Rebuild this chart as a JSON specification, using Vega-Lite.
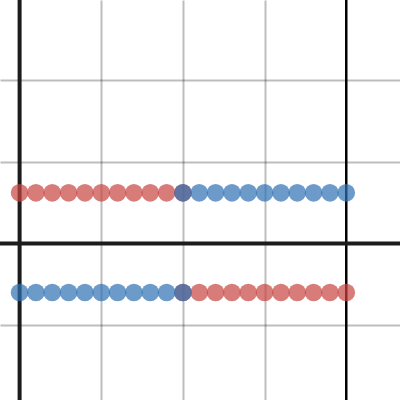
{
  "$schema": "https://vega.github.io/schema/vega-lite/v6.json",
  "width": 400,
  "height": 400,
  "autosize": "none",
  "padding": 0,
  "background": "white",
  "config": {"view": {"stroke": null}},
  "datasets": {
    "points": [
      {"x": 0, "y": 0.62, "series": "red"},
      {"x": 0.2, "y": 0.62, "series": "red"},
      {"x": 0.4, "y": 0.62, "series": "red"},
      {"x": 0.6, "y": 0.62, "series": "red"},
      {"x": 0.8, "y": 0.62, "series": "red"},
      {"x": 1, "y": 0.62, "series": "red"},
      {"x": 1.2, "y": 0.62, "series": "red"},
      {"x": 1.4, "y": 0.62, "series": "red"},
      {"x": 1.6, "y": 0.62, "series": "red"},
      {"x": 1.8, "y": 0.62, "series": "red"},
      {"x": 2, "y": 0.62, "series": "red"},
      {"x": 2, "y": -0.6, "series": "red"},
      {"x": 2.2, "y": -0.6, "series": "red"},
      {"x": 2.4, "y": -0.6, "series": "red"},
      {"x": 2.6, "y": -0.6, "series": "red"},
      {"x": 2.8, "y": -0.6, "series": "red"},
      {"x": 3, "y": -0.6, "series": "red"},
      {"x": 3.2, "y": -0.6, "series": "red"},
      {"x": 3.4, "y": -0.6, "series": "red"},
      {"x": 3.6, "y": -0.6, "series": "red"},
      {"x": 3.8, "y": -0.6, "series": "red"},
      {"x": 4, "y": -0.6, "series": "red"},
      {"x": 2, "y": 0.62, "series": "blue"},
      {"x": 2.2, "y": 0.62, "series": "blue"},
      {"x": 2.4, "y": 0.62, "series": "blue"},
      {"x": 2.6, "y": 0.62, "series": "blue"},
      {"x": 2.8, "y": 0.62, "series": "blue"},
      {"x": 3, "y": 0.62, "series": "blue"},
      {"x": 3.2, "y": 0.62, "series": "blue"},
      {"x": 3.4, "y": 0.62, "series": "blue"},
      {"x": 3.6, "y": 0.62, "series": "blue"},
      {"x": 3.8, "y": 0.62, "series": "blue"},
      {"x": 4, "y": 0.62, "series": "blue"},
      {"x": 0, "y": -0.6, "series": "blue"},
      {"x": 0.2, "y": -0.6, "series": "blue"},
      {"x": 0.4, "y": -0.6, "series": "blue"},
      {"x": 0.6, "y": -0.6, "series": "blue"},
      {"x": 0.8, "y": -0.6, "series": "blue"},
      {"x": 1, "y": -0.6, "series": "blue"},
      {"x": 1.2, "y": -0.6, "series": "blue"},
      {"x": 1.4, "y": -0.6, "series": "blue"},
      {"x": 1.6, "y": -0.6, "series": "blue"},
      {"x": 1.8, "y": -0.6, "series": "blue"},
      {"x": 2, "y": -0.6, "series": "blue"}
    ],
    "vlines": [
      {"x": 0, "w": 4, "c": "#1c1c1c"},
      {"x": 4, "w": 2.5, "c": "#000000"}
    ],
    "hlines": [
      {"y": 0, "w": 4, "c": "#1c1c1c"}
    ]
  },
  "layer": [
    {
      "data": {"name": "points"},
      "mark": {"type": "point", "filled": true, "opacity": 0},
      "encoding": {
        "x": {
          "field": "x", "type": "quantitative",
          "scale": {"domain": [-0.24, 4.658], "nice": false, "zero": false},
          "axis": {"values": [1, 2, 3], "grid": true, "gridColor": "#000000", "gridOpacity": 0.26, "gridWidth": 2, "labels": false, "ticks": false, "domain": false, "title": null}
        },
        "y": {
          "field": "y", "type": "quantitative",
          "scale": {"domain": [-1.916, 2.981], "nice": false, "zero": false},
          "axis": {"values": [-1, 1, 2], "grid": true, "gridColor": "#000000", "gridOpacity": 0.26, "gridWidth": 2, "labels": false, "ticks": false, "domain": false, "title": null}
        }
      }
    },
    {
      "data": {"name": "vlines"},
      "mark": {"type": "rule"},
      "encoding": {
        "x": {"field": "x", "type": "quantitative"},
        "color": {"field": "c", "type": "nominal", "scale": null},
        "strokeWidth": {"field": "w", "type": "quantitative", "scale": null}
      }
    },
    {
      "data": {"name": "hlines"},
      "mark": {"type": "rule"},
      "encoding": {
        "y": {"field": "y", "type": "quantitative"},
        "color": {"field": "c", "type": "nominal", "scale": null},
        "strokeWidth": {"field": "w", "type": "quantitative", "scale": null}
      }
    },
    {
      "data": {"name": "points"},
      "mark": {"type": "circle", "opacity": 0.7, "size": 314},
      "encoding": {
        "x": {"field": "x", "type": "quantitative"},
        "y": {"field": "y", "type": "quantitative"},
        "color": {
          "field": "series", "type": "nominal",
          "scale": {"domain": ["red", "blue"], "range": ["#c74440", "#2d70b3"]},
          "legend": null
        }
      }
    }
  ]
}
